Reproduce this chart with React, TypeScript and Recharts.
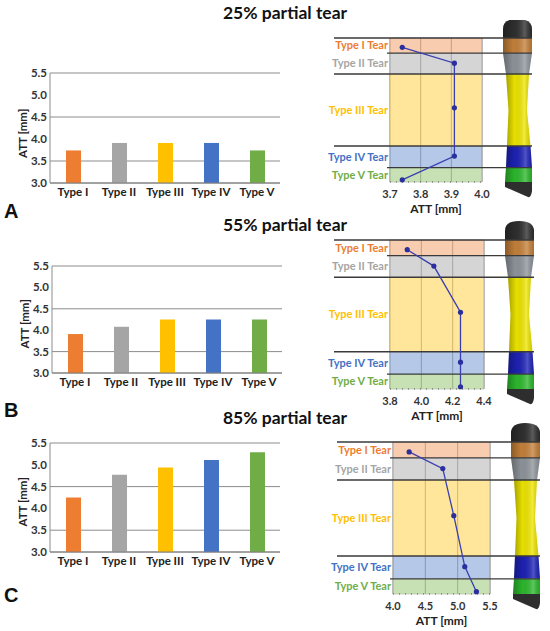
import React from 'react';
import {
  BarChart,
  Bar,
  Cell,
  XAxis,
  YAxis,
  CartesianGrid,
  ScatterChart,
  Scatter,
  ReferenceArea,
} from 'recharts';

const categories = ['Type I', 'Type II', 'Type III', 'Type IV', 'Type V'];
const tearLabels = ['Type I Tear', 'Type II Tear', 'Type III Tear', 'Type IV Tear', 'Type V Tear'];
const typeColors = ['#ED7D31', '#A5A5A5', '#FFC000', '#4472C4', '#70AD47'];
const bandFills = ['#F4B183', '#BFBFBF', '#FFD966', '#8FAADC', '#A9D18E'];

// ATT [mm] per tear type
const att25 = [3.74, 3.91, 3.91, 3.91, 3.74];
const att55 = [3.91, 4.08, 4.25, 4.25, 4.25];
const att85 = [4.25, 4.77, 4.94, 5.11, 5.29];

// location along the ligament (0 = femoral, 100 = tibial)
const bandEdges = [0, 10.5, 25, 75, 90, 100];
const tearPos = [6.5, 17.5, 48.5, 82, 98.5];
const gridPos = [0, 10, 20, 30, 40, 50, 60, 70, 80, 90, 100];

const barTicks = [3.0, 3.5, 4.0, 4.5, 5.0, 5.5];
const ticks25 = [3.7, 3.8, 3.9, 4.0];
const ticks55 = [3.8, 4.0, 4.2, 4.4];
const ticks85 = [4.0, 4.5, 5.0, 5.5];

const FONT = 'Lato, "Liberation Sans", sans-serif';

// ligament outline offsets (px right of the plot edge) along its length
const ligLeft = [[0, 21], [10.5, 21], [25, 24], [50, 26.5], [75, 25], [90, 24], [100, 23]];
const ligRight = [[0, 50], [10.5, 50], [25, 47], [50, 45], [75, 48.5], [90, 50], [100, 50]];
const ligColors = ['#C5813A', '#8E959B', '#EFE600', '#1D22B6', '#2DB92D'];

const edgeAt = (arr: number[][], f: number) => {
  for (let i = 1; i < arr.length; i++) {
    if (f <= arr[i][0]) {
      const [f0, d0] = arr[i - 1];
      const [f1, d1] = arr[i];
      return d0 + ((d1 - d0) * (f - f0)) / (f1 - f0);
    }
  }
  return arr[arr.length - 1][1];
};

const Ligament = (props: any) => {
  const { x, y, width, height, gid } = props;
  const R = x + width;
  const py = (f: number) => y + (f / 100) * height;
  const L = R + 21;
  const Rr = R + 50;
  const top = py(0);
  const bot = py(100);
  const longLine = [true, false, true, true, false];
  const shade = `url(#${gid})`;
  const bands = bandEdges.slice(0, -1).map((f0, i) => {
    const f1 = bandEdges[i + 1];
    const pts: string[] = [];
    const n = 8;
    for (let k = 0; k <= n; k++) {
      const f = f0 + ((f1 - f0) * k) / n;
      pts.push(`${R + edgeAt(ligLeft, f)},${py(f)}`);
    }
    for (let k = n; k >= 0; k--) {
      const f = f0 + ((f1 - f0) * k) / n;
      pts.push(`${R + edgeAt(ligRight, f)},${py(f)}`);
    }
    const p = pts.join(' ');
    return (
      <g key={i}>
        <polygon points={p} fill={ligColors[i]} />
        <polygon points={p} fill={shade} />
      </g>
    );
  });
  const capTop = `M${L},${top} L${L},${top - 9} Q${L},${top - 19} ${L + 14},${top - 19} Q${Rr},${top - 19} ${Rr},${top - 9} L${Rr},${top} Z`;
  const capBot = `M${R + 23},${bot} L${Rr},${bot} L${Rr},${bot + 9} Q${Rr - 1},${bot + 16} ${Rr - 4},${bot + 15} L${R + 23},${bot + 5} Z`;
  return (
    <g>
      <defs>
        <linearGradient id={gid} x1="0" x2="1" y1="0" y2="0">
          <stop offset="0" stopColor="#000" stopOpacity="0.3" />
          <stop offset="0.35" stopColor="#000" stopOpacity="0.03" />
          <stop offset="0.75" stopColor="#fff" stopOpacity="0.22" />
          <stop offset="1" stopColor="#000" stopOpacity="0.12" />
        </linearGradient>
      </defs>
      <path d={capTop} fill="#2E2E2E" />
      <path d={capTop} fill={shade} />
      {bands}
      <path d={capBot} fill="#2E2E2E" />
      {bandEdges.slice(0, -1).map((f, i) => (
        <line
          key={i}
          x1={longLine[i] ? x - 56 : x - 3}
          x2={Rr}
          y1={py(f)}
          y2={py(f)}
          stroke="#3A3A3A"
          strokeWidth={1.3}
        />
      ))}
    </g>
  );
};

type BarProps = { values: number[]; left: number; top: number; height: number; labelDy: number };

const AttBars = ({ values, left, top, height, labelDy }: BarProps) => {
  const data = categories.map((c, i) => ({ name: c, att: values[i] }));
  return (
    <div style={{ position: 'absolute', left, top }}>
      <BarChart width={290} height={height} data={data} margin={{ top: 10, right: 10, left: 8, bottom: 6 }}>
        <CartesianGrid vertical={false} stroke="#8C8C8C" />
        <XAxis
          dataKey="name"
          tickLine={false}
          axisLine={{ stroke: '#7F7F7F' }}
          height={22}
          interval={0}
          tick={{ fontSize: 11.5, fontWeight: 700, fill: '#222', fontFamily: FONT }}
          tickMargin={-1}
        />
        <YAxis
          domain={[3, 5.5]}
          ticks={barTicks}
          tickFormatter={(v: number) => v.toFixed(1)}
          width={42}
          tickLine={false}
          tickSize={0}
          axisLine={{ stroke: '#8C8C8C' }}
          tick={{ fontSize: 11.5, fontWeight: 700, fill: '#333', fontFamily: FONT }}
          tickMargin={3}
          label={{
            value: 'ATT [mm]',
            angle: -90,
            position: 'insideLeft',
            offset: 15,
            dy: labelDy,
            style: { fontSize: 11.5, fontWeight: 700, fill: '#222', fontFamily: FONT },
          }}
        />
        <Bar dataKey="att" barSize={15} isAnimationActive={false}>
          {data.map((d, i) => (
            <Cell key={d.name} fill={typeColors[i]} />
          ))}
        </Bar>
      </BarChart>
    </div>
  );
};

type LineProps = {
  values: number[];
  domain: number[];
  ticks: number[];
  left: number;
  top: number;
  height: number;
  margin: { top: number; right: number; left: number; bottom: number };
  axisHeight: number;
  gid: string;
};

const AttAlongLigament = ({ values, domain, ticks, left, top, height, margin, axisHeight, gid }: LineProps) => {
  const data = tearPos.map((p, i) => ({ pos: p, att: values[i] }));
  return (
    <div style={{ position: 'absolute', left, top }}>
      <ScatterChart width={550 - left} height={height} margin={margin}>
        {bandEdges.slice(0, -1).map((f, i) => (
          <ReferenceArea
            key={i}
            x1={domain[0]}
            x2={domain[1]}
            y1={f}
            y2={bandEdges[i + 1]}
            fill={bandFills[i]}
            fillOpacity={0.65}
            stroke="none"
            label={{
              value: tearLabels[i],
              position: 'left',
              offset: 2,
              fill: typeColors[i],
              fontSize: 11,
              fontWeight: 700,
              fontFamily: FONT,
            }}
          />
        ))}
        <CartesianGrid stroke="#C2C2C2" strokeOpacity={0.8} vertical={false} />
        <CartesianGrid stroke="#555" strokeOpacity={0.8} horizontal={false} />
        <XAxis
          type="number"
          dataKey="att"
          domain={domain}
          ticks={ticks}
          allowDataOverflow
          height={axisHeight}
          tickLine={false}
          tickSize={2}
          tickMargin={6}
          axisLine={{ stroke: '#555', strokeDasharray: '1 5' }}
          tickFormatter={(v: number) => v.toFixed(1)}
          tick={{ fontSize: 11, fontWeight: 700, fill: '#333', fontFamily: FONT }}
          label={{
            value: 'ATT [mm]',
            position: 'insideBottom',
            offset: 0,
            style: { fontSize: 12, fontWeight: 700, fill: '#222', fontFamily: FONT },
          }}
        />
        <YAxis
          type="number"
          dataKey="pos"
          domain={[0, 100]}
          ticks={gridPos}
          reversed
          width={0}
          tick={false}
          tickLine={false}
          axisLine={false}
        />
        <ReferenceArea
          x1={domain[0]}
          x2={domain[1]}
          y1={0}
          y2={100}
          ifOverflow="visible"
          shape={(p: any) => <Ligament {...p} gid={gid} />}
        />
        <Scatter
          data={data}
          fill="#2B2F9E"
          line={{ stroke: '#3A3FB0', strokeWidth: 1.3 }}
          shape={(p: any) => <circle cx={p.cx} cy={p.cy} r={2.6} fill="#2B2F9E" />}
          isAnimationActive={false}
        />
      </ScatterChart>
    </div>
  );
};

const titleStyle: React.CSSProperties = {
  position: 'absolute',
  left: 0,
  width: 570,
  textAlign: 'center',
  fontFamily: FONT,
  fontWeight: 700,
  fontSize: 17.5,
  color: '#111',
  lineHeight: '20px',
};

const letterStyle: React.CSSProperties = {
  position: 'absolute',
  left: 4,
  fontFamily: '"Liberation Sans", Arial, sans-serif',
  fontWeight: 700,
  fontSize: 20,
  color: '#111',
  lineHeight: '20px',
};

export default function App() {
  return (
    <div
      style={{
        position: 'absolute',
        left: 0,
        top: 0,
        width: 550,
        height: 631,
        background: '#fff',
        overflow: 'hidden',
      }}
    >
      <div style={{ ...titleStyle, top: 3 }}>25% partial tear</div>
      <div style={{ ...titleStyle, top: 215 }}>55% partial tear</div>
      <div style={{ ...titleStyle, top: 408 }}>85% partial tear</div>

      <div style={{ ...letterStyle, top: 201 }}>A</div>
      <div style={{ ...letterStyle, top: 400 }}>B</div>
      <div style={{ ...letterStyle, top: 585 }}>C</div>

      <AttBars values={att25} left={0} top={63} height={148} labelDy={30} />
      <AttBars values={att55} left={2} top={256} height={145} labelDy={29} />
      <AttBars values={att85} left={0} top={433} height={147} labelDy={29} />

      <AttAlongLigament
        values={att25}
        domain={[3.7, 4.0]}
        ticks={ticks25}
        left={300}
        top={20}
        height={200}
        margin={{ top: 18, right: 68, left: 90, bottom: 7 }}
        axisHeight={31}
        gid="lg25"
      />
      <AttAlongLigament
        values={att55}
        domain={[3.8, 4.4]}
        ticks={ticks55}
        left={300}
        top={220}
        height={203}
        margin={{ top: 20, right: 66, left: 90, bottom: 3 }}
        axisHeight={31}
        gid="lg55"
      />
      <AttAlongLigament
        values={att85}
        domain={[4.0, 5.5]}
        ticks={ticks85}
        left={300}
        top={420}
        height={211}
        margin={{ top: 22, right: 60, left: 93, bottom: 6 }}
        axisHeight={31}
        gid="lg85"
      />
    </div>
  );
}
